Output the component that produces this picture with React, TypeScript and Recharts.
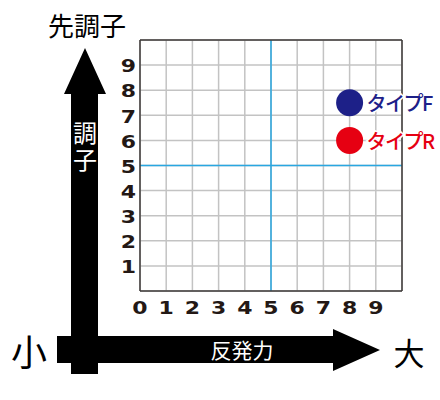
import { CartesianGrid, ReferenceLine, Scatter, ScatterChart, XAxis, YAxis } from "recharts";

// 反発力 (x) / 調子 (y) grid, 0..10 on both axes
const xTicks = [0, 1, 2, 3, 4, 5, 6, 7, 8, 9, 10];
const yTicks = [0, 1, 2, 3, 4, 5, 6, 7, 8, 9, 10];
const xLabelled = [0, 1, 2, 3, 4, 5, 6, 7, 8, 9];
const yLabelled = [1, 2, 3, 4, 5, 6, 7, 8, 9];

const typeNames = ["タイプF", "タイプR"];
const hanpatsu = [8, 8];
const choushi = [7.5, 6];

const TYPE_COLOR = ["#1d2088", "#e60012"];
const GRID = "#c3c3c3";
const BORDER = "#3e3a39";
const CENTER = "#29a7e1";
const JP = '"Noto Sans CJK JP", "Noto Sans", sans-serif';
const DIGIT = '"DejaVu Sans", Verdana, sans-serif';

const series = typeNames.map((name, i) => ({
  name,
  color: TYPE_COLOR[i],
  data: [{ x: hanpatsu[i], y: choushi[i], name }],
}));

function Marker(props: any) {
  const { cx, cy, payload, fill } = props;
  return (
    <g>
      <circle cx={cx} cy={cy} r={13.5} fill={fill} />
      <text
        x={cx + 17}
        y={cy}
        dominantBaseline="central"
        fill={fill}
        stroke="#fff"
        strokeWidth={3}
        paintOrder="stroke"
        fontFamily={JP}
        fontWeight={500}
        fontSize={20}
        letterSpacing={-1.5}
      >
        {payload.name}
      </text>
    </g>
  );
}

// wide, heavy digits like the reference
function makeTick(labelled: number[], anchor: "middle" | "end", shiftY: number) {
  return function Tick(props: any) {
    const { x, y, payload } = props;
    if (!labelled.includes(payload.value)) return null;
    return (
      <text
        transform={`translate(${x},${y + shiftY}) scale(1.22,1)`}
        textAnchor={anchor}
        dominantBaseline="central"
        fill="#231815"
        fontSize={18}
        fontWeight={700}
        fontFamily={DIGIT}
      >
        {payload.value}
      </text>
    );
  };
}

const XTick = makeTick(xLabelled, "middle", 7);
const YTick = makeTick(yLabelled, "end", 1);

export default function App() {
  return (
    <div style={{ position: "absolute", left: 0, top: 0, width: 440, height: 400, background: "#fff" }}>
      <ScatterChart width={440} height={400} margin={{ top: 40, right: 38, bottom: 79, left: 100 }}>
        <CartesianGrid stroke={GRID} strokeWidth={1.5} />
        <XAxis
          type="number"
          dataKey="x"
          domain={[0, 10]}
          ticks={xTicks}
          interval={0}
          height={30}
          tickLine={false}
          tickSize={0}
          tickMargin={10}
          axisLine={{ stroke: BORDER, strokeWidth: 1.5 }}
          tick={XTick}
        />
        <YAxis
          type="number"
          dataKey="y"
          domain={[0, 10]}
          ticks={yTicks}
          interval={0}
          width={40}
          tickLine={false}
          tickSize={0}
          tickMargin={4}
          axisLine={{ stroke: BORDER, strokeWidth: 1.5 }}
          tick={YTick}
        />
        <ReferenceLine x={5} stroke={CENTER} strokeWidth={1.5} />
        <ReferenceLine y={5} stroke={CENTER} strokeWidth={1.5} />
        <ReferenceLine x={10} stroke={BORDER} strokeWidth={1.5} />
        <ReferenceLine y={10} stroke={BORDER} strokeWidth={1.5} />
        {series.map((s) => (
          <Scatter
            key={s.name}
            name={s.name}
            data={s.data}
            fill={s.color}
            shape={Marker}
            isAnimationActive={false}
          />
        ))}
      </ScatterChart>
      <svg
        width={440}
        height={400}
        style={{ position: "absolute", left: 0, top: 0, pointerEvents: "none" }}
      >
        <polygon points="85,48 106,94 98,94 98,374 71,374 71,94 64,94" fill="#000" />
        <polygon points="57,336 333,336 333,329 380,350 333,371 333,363 57,363" fill="#000" />
        <g fontFamily={JP} textAnchor="middle" dominantBaseline="central">
          <text x={87} y={24} fontSize={26} fill="#000">先調子</text>
          <text x={242} y={349} fontSize={21} fill="#fff">反発力</text>
          <text x={29} y={350} fontSize={36} fill="#000">小</text>
          <text x={409} y={351} fontSize={31} fill="#000">大</text>
        </g>
        <text
          x={85}
          y={121}
          fontFamily={JP}
          fontSize={24}
          letterSpacing={3}
          fill="#fff"
          style={{ writingMode: "vertical-rl" }}
        >
          調子
        </text>
      </svg>
    </div>
  );
}
